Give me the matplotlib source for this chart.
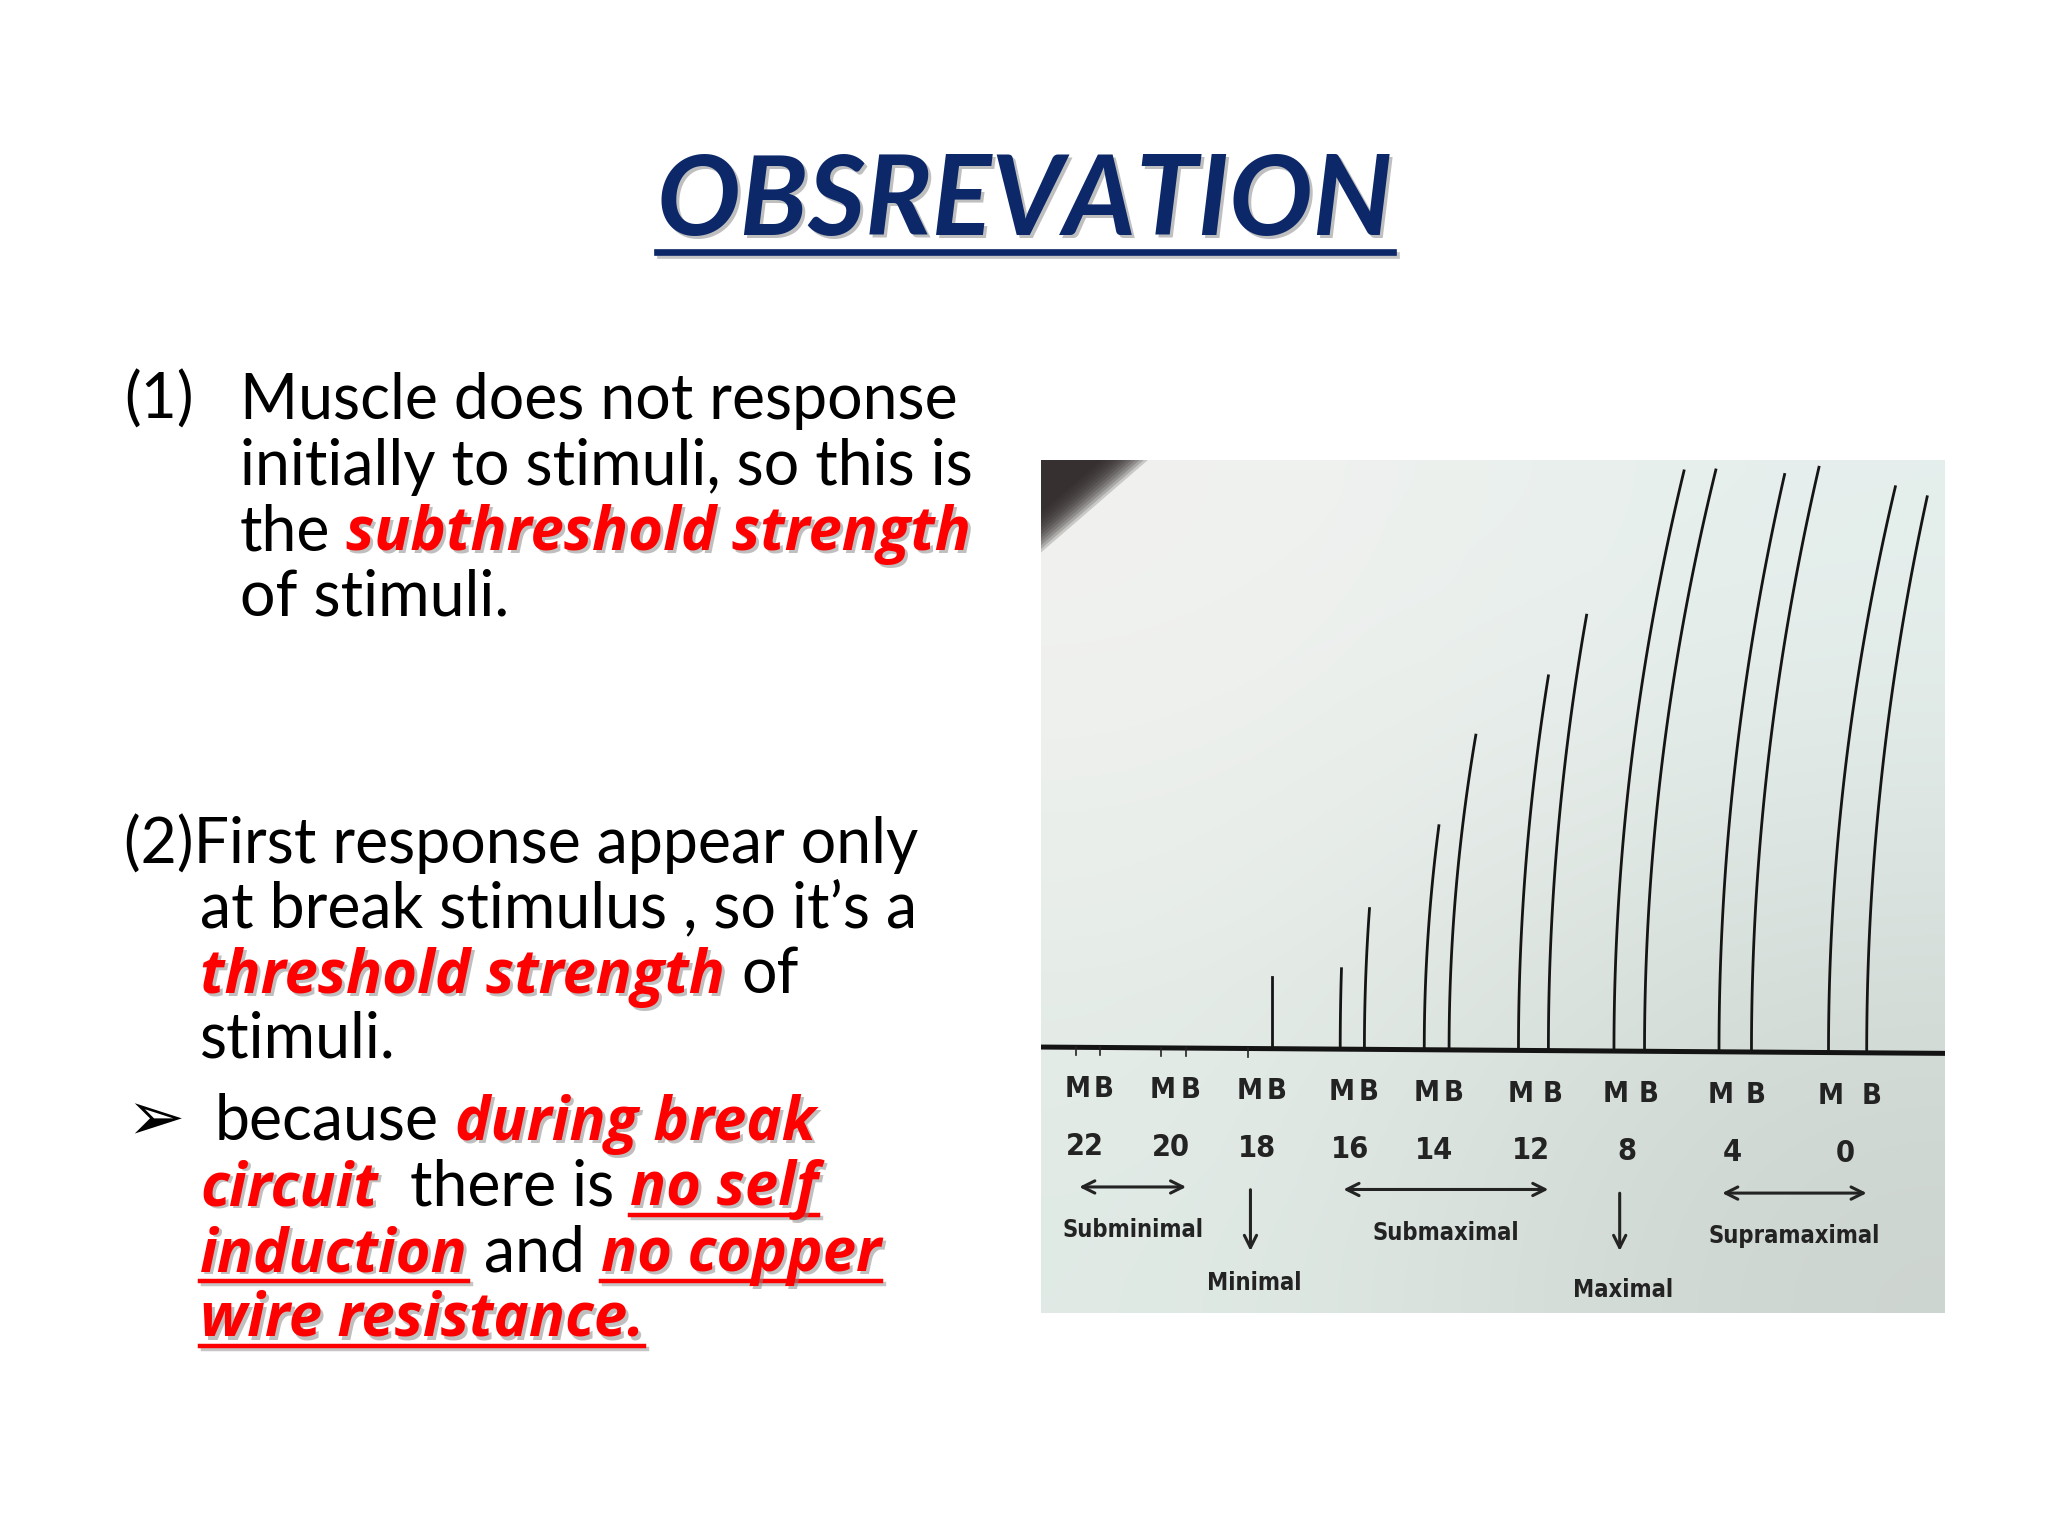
import numpy as np
import matplotlib
matplotlib.use("Agg")
import matplotlib.pyplot as plt
from matplotlib.lines import Line2D
from matplotlib.patches import Polygon

# ---- kymograph data (drum positions of make / break stimuli, response heights) ----
stim_labels = ["22", "20", "18", "16", "14", "12", "8", "4", "0"]
make_x = [55, 188, 325, 470, 602, 750, 900, 1065, 1237]
break_x = [92, 228, 363, 508, 641, 797, 948, 1116, 1297]
make_h = [0, 0, 0, 140, 390, 652, 1010, 1005, 985]
break_h = [0, 0, 125, 245, 548, 758, 1012, 1018, 968]
make_lean = [0, 0, 0, 2, 23, 47, 110, 103, 105]
break_lean = [0, 0, 0, 8, 42, 60, 112, 106, 95]
group_names = ["Subminimal", "Minimal", "Submaximal", "Maximal", "Supramaximal"]
group_span = [(0, 1), (2, 2), (3, 5), (6, 6), (7, 8)]

W, H = 2048, 1536
fig = plt.figure(figsize=(W / 100, H / 100), dpi=100)
fig.patch.set_facecolor("white")
renderer = fig.canvas.get_renderer()

BODY = ["Lato", "DejaVu Sans"]
BOLD = ["Open Sans", "Lato", "DejaVu Sans"]
NAVY = "#0c2869"
RED = "#ff0000"
SHADOW = "#8c8c8c"
SIZE = 45
RED_SIZE = 43


def fx(x):
    return x / W


def fy(y):
    return 1 - y / H


def put(x, y, s, style="n", size=None, underline=False, ha="left", color=None, family=None):
    kw = dict(va="baseline", ha=ha)
    if style == "n":
        t = fig.text(fx(x), fy(y), s, color=color or "black", family=family or BODY,
                     fontsize=size or SIZE, **kw)
    else:
        size = size or RED_SIZE
        kw.update(fontweight="bold", fontstyle="italic", family=family or BOLD, fontsize=size)
        fig.text(fx(x + 3), fy(y + 3), s, color=SHADOW, alpha=0.55, **kw)
        t = fig.text(fx(x), fy(y), s, color=color or RED, **kw)
    bb = t.get_window_extent(renderer=renderer)
    if underline:
        c = color or RED
        big = size is not None and size >= 60
        lw = 4.8 if big else 3.2
        off = 17 if big else 10
        fig.add_artist(Line2D([fx(bb.x0 + 3), fx(bb.x1 + 3)], [fy(y + off + 3)] * 2,
                              transform=fig.transFigure, color=SHADOW, alpha=0.5, lw=lw))
        fig.add_artist(Line2D([fx(bb.x0), fx(bb.x1)], [fy(y + off)] * 2,
                              transform=fig.transFigure, color=c, lw=lw))
    return bb.x1


def width(s):
    t = fig.text(0, 0, s, fontsize=SIZE, family=BODY)
    w = t.get_window_extent(renderer=renderer).width
    t.remove()
    return w


SPACE = width("n n") - width("nn")


def line(x, y, runs):
    for s, style, ul, gap in runs:
        x = put(x, y, s, style, underline=ul) + SPACE * gap


# ---- title ----
put(1025, 235, "OBSREVATION", "b", size=80, ha="center", color=NAVY, underline=True,
    family=BODY)

# ---- text block 1 ----
put(124, 419, "(1)")
line(240, 419, [("Muscle does not response", "n", False, 1)])
line(240, 485, [("initially to stimuli, so this is", "n", False, 1)])
line(240, 550, [("the", "n", False, 1), ("subthreshold strength", "b", False, 1)])
line(240, 615, [("of stimuli.", "n", False, 1)])

# ---- text block 2 ----
line(124, 863, [("(2)First response appear only", "n", False, 1)])
line(200, 927, [("at break stimulus , so it\u2019s a", "n", False, 1)])
line(200, 993, [("threshold strength", "b", False, 1), ("of", "n", False, 1)])
line(200, 1058, [("stimuli.", "n", False, 1)])
fig.text(fx(126), fy(1140), "\u27a2", fontsize=50, family=["DejaVu Sans"],
         va="baseline", ha="left", color="black")
line(215, 1140, [("because", "n", False, 1), ("during break", "b", False, 1)])
line(200, 1205, [("circuit", "b", False, 2), ("there is", "n", False, 1),
                 ("no self", "b", True, 1)])
line(200, 1271, [("induction", "b", True, 1), ("and", "n", False, 1),
                 ("no copper", "b", True, 1)])
line(200, 1336, [("wire resistance.", "b", True, 1)])

# ---- kymograph photo ----
ax = fig.add_axes([1041 / W, 1 - 1313 / H, 904 / W, 853 / H])
ax.set_xlim(0, 1420)
ax.set_ylim(0, 1485)
ax.set_xticks([])
ax.set_yticks([])
for sp in ax.spines.values():
    sp.set_visible(False)

bg = np.array([[[0.88, 0.92, 0.90], [0.80, 0.83, 0.81]],
               [[0.95, 0.95, 0.94], [0.90, 0.94, 0.93]]])
ax.imshow(bg, extent=[0, 1420, 0, 1485], aspect="auto", interpolation="bicubic",
          origin="lower", zorder=0)
for k in np.linspace(1.4, 0.8, 12):
    ax.add_patch(Polygon([(0, 1485), (120 * k, 1485), (0, 1485 - 115 * k)],
                         closed=True, color="#2a2424", alpha=0.2, lw=0, zorder=1))

LAB = dict(family=["DejaVu Sans"], fontweight="bold", fontstretch="condensed",
           color="#232323", ha="center", va="center")
INK = "#232323"


def base(x):
    return 463 - 11 * x / 1420


ax.plot([0, 1420], [base(0), base(1420)], color="#141414", lw=3.6, zorder=3)


def trace(x0, h, lean):
    y0 = base(x0)
    if h <= 0:
        ax.plot([x0, x0], [y0, y0 - 14], color=INK, lw=1.2, zorder=3)
        return
    hh = np.linspace(0, h, 60)
    ax.plot(x0 + lean * (hh / h) ** 2, y0 + hh, color="#151515", lw=2.0, zorder=3)


for i in range(len(stim_labels)):
    trace(make_x[i], make_h[i], make_lean[i])
    trace(break_x[i], break_h[i], break_lean[i])
    tilt = -15 * make_x[i] / 1420
    ax.text(make_x[i] + 3, 390 + tilt, "M", fontsize=21, **LAB)
    ax.text(break_x[i] + 7, 390 + tilt, "B", fontsize=21, **LAB)
    ax.text((make_x[i] + break_x[i]) / 2 - 4, 290 + tilt, stim_labels[i], fontsize=22, **LAB)

arrow_kw = dict(color=INK, lw=2.2, shrinkA=0, shrinkB=0, mutation_scale=22)
for name, (a, b) in zip(group_names, group_span):
    tilt = -15 * make_x[a] / 1420
    if a != b:
        x0, x1 = make_x[a] + 5, break_x[b]
        ax.annotate("", xy=(x1, 220 + tilt), xytext=(x0, 220 + tilt),
                    arrowprops=dict(arrowstyle="<->", **arrow_kw))
        ax.text((x0 + x1) / 2, 145 + tilt, name, fontsize=17, **LAB)
    else:
        xc = (make_x[a] + break_x[a]) / 2 - 15
        ax.annotate("", xy=(xc, 108), xytext=(xc, 218 + tilt),
                    arrowprops=dict(arrowstyle="->", **arrow_kw))
        ax.text(xc + 6, 40 + 12 * (a == 2), name, fontsize=17, **LAB)

fig.savefig("out.png", dpi=100, facecolor="white")
